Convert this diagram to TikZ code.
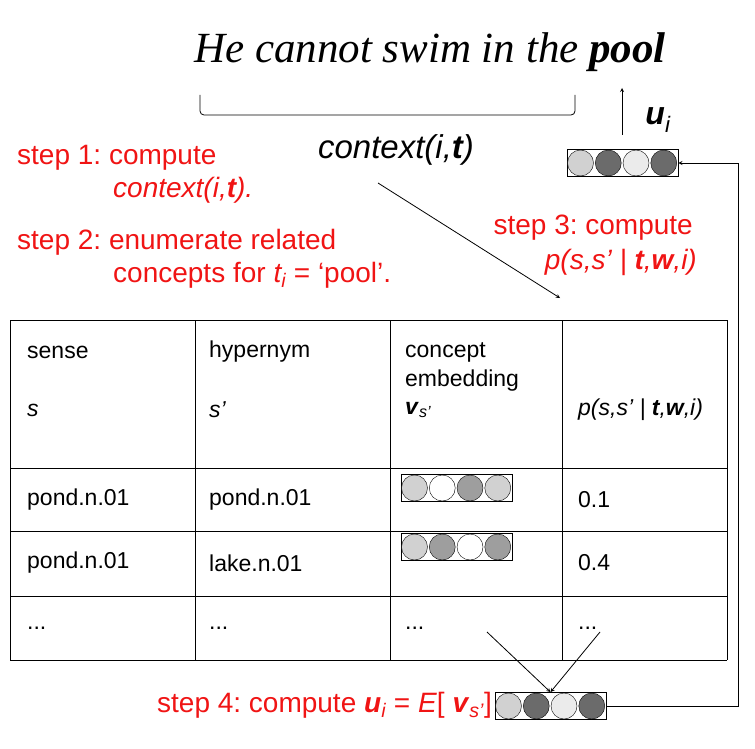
\documentclass[tikz,border=0pt]{standalone}
\usepackage{fontspec}
\setmainfont{Liberation Sans}
\newfontfamily\titlefont{Liberation Serif}
\usetikzlibrary{calc,positioning}
\frenchspacing
\definecolor{stepred}{RGB}{240,20,20}
\definecolor{cA}{gray}{0.82}
\definecolor{cB}{gray}{0.42}
\definecolor{cC}{gray}{0.92}
\definecolor{cD}{gray}{0.62}

% one embedding vector: name, centre, four fill colours
\newcommand{\embvec}[6]{%
  \node[vecbox] (#1) at (#2) {};
  \foreach \c [count=\k] in {#3,#4,#5,#6}
    \node[cell, fill=\c] at ($(#1.west)+(13.9+27.75*\k-27.75,0)$) {};
}

\begin{document}
\begin{tikzpicture}[x=1pt,y=-1pt,
    vecbox/.style={draw, thick, minimum width=111pt, minimum height=27pt, inner sep=0pt},
    cell/.style={draw, circle, minimum size=26pt, inner sep=0pt},
    steptext/.style={text=stepred, font=\fontsize{28}{32}\selectfont, anchor=west, inner sep=0pt},
    cellt/.style={font=\fontsize{23}{26}\selectfont, anchor=west, inner sep=0pt},
    >=stealth]
    \useasboundingbox (0,0) rectangle (755,749);

    \node[font=\titlefont\fontsize{43}{48}\selectfont\itshape] (sent) at (430,52) {He cannot swim in the \textbf{pool}};
    \draw[thick, rounded corners=4pt] (200,95) -- (200,115) -- (575,115) -- (575,95);
    \node[font=\fontsize{33}{38}\selectfont\itshape] (ctx) at (396,150) {context(i,\textbf{t})};

    % steps
    \node[steptext] (s1) at (17,158) {step 1: compute};
    \node[steptext] (s1b) at (113,190) {\itshape context(i,\textbf{t}).};
    \node[steptext] (s2) at (17,242) {step 2: enumerate related};
    \node[steptext] (s2b) at (113,275) {concepts for \textit{t\textsubscript{i}} = ‘pool’.};
    \node[steptext, anchor=east] (s3) at (693,228) {step 3: compute};
    \node[steptext, anchor=east] (s3b) at (697,262) {\itshape p(s,s’ | \textbf{t},\textbf{w},i)};

    % output vector
    \embvec{ui}{622.5,163}{cA}{cB}{cC}{cB}
    \node[font=\fontsize{32}{36}\selectfont\bfseries\itshape] (uil) at (658,120) {u\textsubscript{\mdseries i}};
    \draw[->, thick] (622,135) -- (622,88);

    % table
    \draw[thick] (10,320) -- (727,320) (10,468) -- (727,468) (10,531) -- (727,531)
      (10,596) -- (727,596) (10,660) -- (727,660);
    \foreach \x in {10,195,390,562,727} \draw[thick] (\x,320) -- (\x,660);
    \node[cellt] at (27,352) {sense};
    \node[cellt] at (27,410) {\itshape s};
    \node[cellt] at (209,352) {hypernym};
    \node[cellt] at (209,410) {\itshape s’};
    \node[cellt] at (405,352) {concept};
    \node[cellt] at (405,381) {embedding};
    \node[cellt] at (405,410) {\textbf{\itshape v}\textsubscript{\itshape s’}};
    \node[cellt] at (578,410) {\itshape p(s,s’ | \textbf{t},\textbf{w},i)};
    \node[cellt] at (27,500) {pond.n.01};
    \node[cellt] at (209,500) {pond.n.01};
    \node[cellt] at (578,500) {0.1};
    \node[cellt] at (27,563) {pond.n.01};
    \node[cellt] at (209,563) {lake.n.01};
    \node[cellt] at (578,563) {0.4};
    \foreach \x in {27,209,405,578} \node[cellt] at (\x,628) {...};
    \embvec{r1}{456.5,488}{cA}{white}{cD}{cA}
    \embvec{r2}{456.5,547}{cA}{cD}{white}{cD}

    % expectation
    \embvec{ex}{550.5,706}{cA}{cB}{cC}{cB}
    \node[steptext, anchor=east] (s4) at (492,705) {step 4: compute \textbf{\itshape u}\textsubscript{\itshape i} = \textit{E}[ \textbf{\itshape v}\textsubscript{\itshape s’}]};
    \coordinate (d1) at (487,632);
    \coordinate (d2) at (600,632);
    \draw[->, thick] (d1) -- (ex.north);
    \draw[->, thick] (d2) -- (ex.north);
    \draw[->, thick] (ex.east) -| (738,163) -- (ui.east);
    \draw[->, thick] (378,183) -- (560,298);
\end{tikzpicture}
\end{document}
